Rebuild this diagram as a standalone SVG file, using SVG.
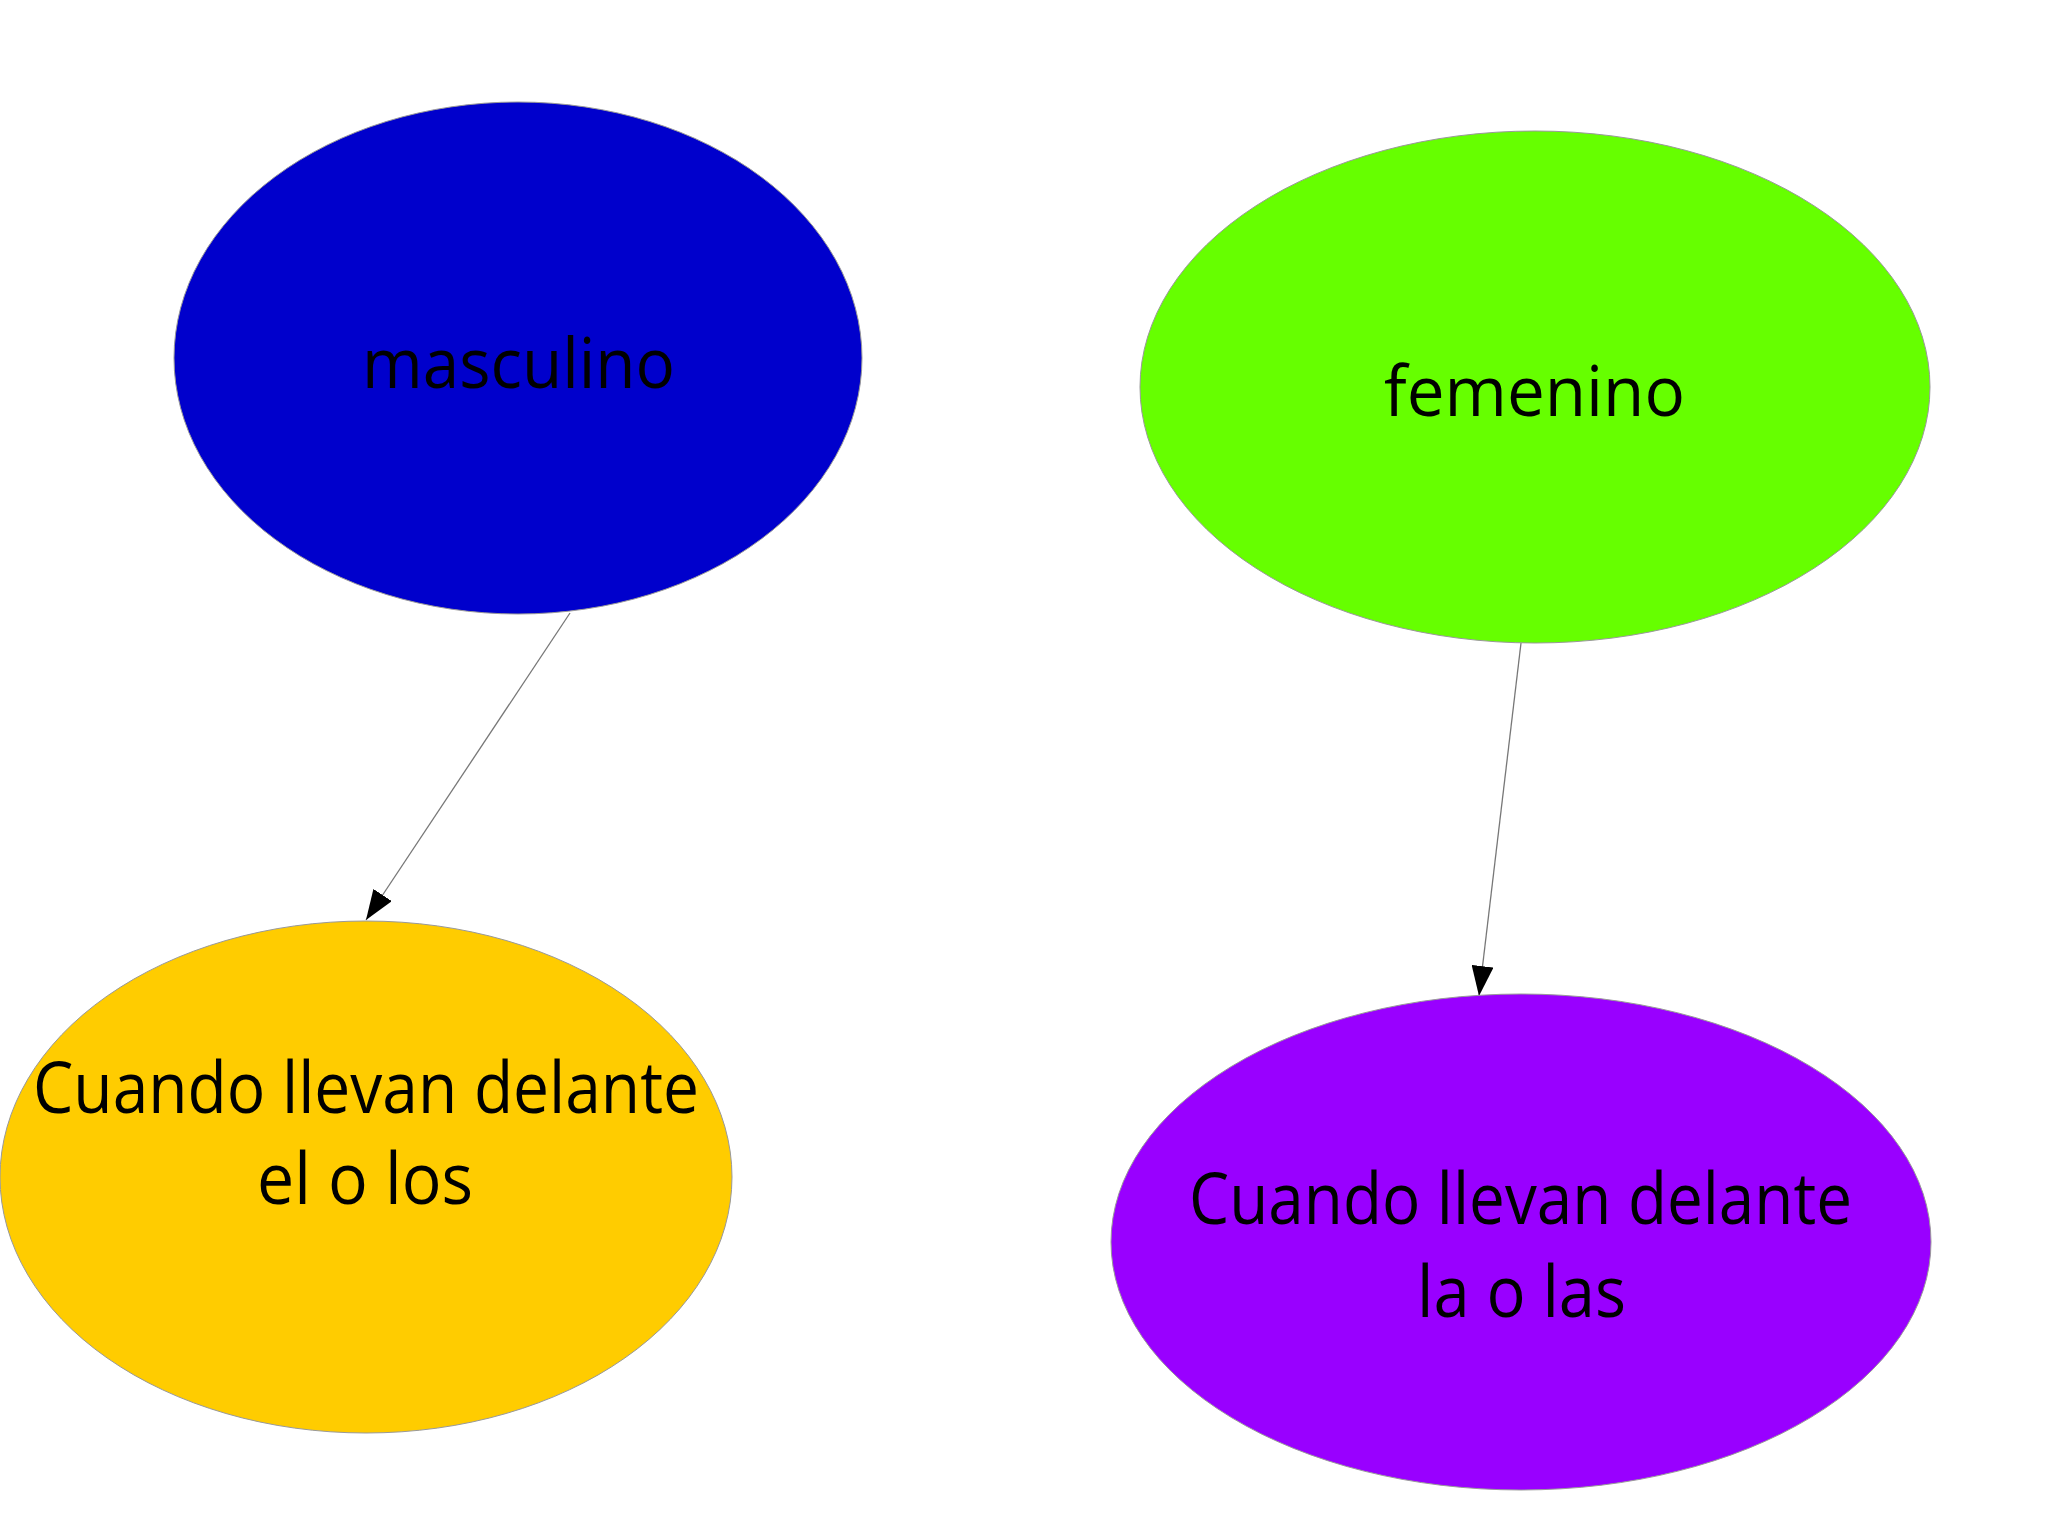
<svg xmlns="http://www.w3.org/2000/svg" width="2048" height="1535" viewBox="0 0 2048 1535">
<style>
.node{stroke:#999999;stroke-width:1}
.lbl{font-family:"Open Sans","DejaVu Sans",sans-serif;fill:#000000;text-anchor:start}
.conn{stroke:#777777;stroke-width:1.3;fill:none}
</style>
<defs>
<marker id="arr" markerWidth="32" markerHeight="22" refX="30" refY="11" orient="auto" markerUnits="userSpaceOnUse">
<path d="M0,0 L30,11 L0,22 Z" fill="#000000"/>
</marker>
</defs>
<rect width="2048" height="1535" fill="#ffffff"/>
<g id="connectors">
<line class="conn" x1="570" y1="613" x2="366" y2="920" marker-end="url(#arr)"/>
<line class="conn" x1="1521" y1="643" x2="1479" y2="996" marker-end="url(#arr)"/>
</g>
<g id="node-masculino">
<ellipse class="node" cx="518" cy="358" rx="344" ry="256" fill="#0000CC"/>
<text class="lbl" x="362" y="388" font-size="70" textLength="313" lengthAdjust="spacingAndGlyphs">masculino</text>
</g>
<g id="node-femenino">
<ellipse class="node" cx="1535" cy="387" rx="395" ry="256" fill="#66FF00"/>
<text class="lbl" x="1384" y="416" font-size="70" textLength="301" lengthAdjust="spacingAndGlyphs">femenino</text>
</g>
<g id="node-el-los">
<ellipse class="node" cx="366" cy="1177" rx="366" ry="256" fill="#FFCC00"/>
<text class="lbl" x="33" y="1113" font-size="72" textLength="666" lengthAdjust="spacingAndGlyphs">Cuando llevan delante</text>
<text class="lbl" x="257" y="1204" font-size="72" textLength="216" lengthAdjust="spacingAndGlyphs">el o los</text>
</g>
<g id="node-la-las">
<ellipse class="node" cx="1521" cy="1242" rx="410" ry="248" fill="#9900FF"/>
<text class="lbl" x="1189" y="1224" font-size="72" textLength="663" lengthAdjust="spacingAndGlyphs">Cuando llevan delante</text>
<text class="lbl" x="1417" y="1317" font-size="72" textLength="209" lengthAdjust="spacingAndGlyphs">la o las</text>
</g>
</svg>
